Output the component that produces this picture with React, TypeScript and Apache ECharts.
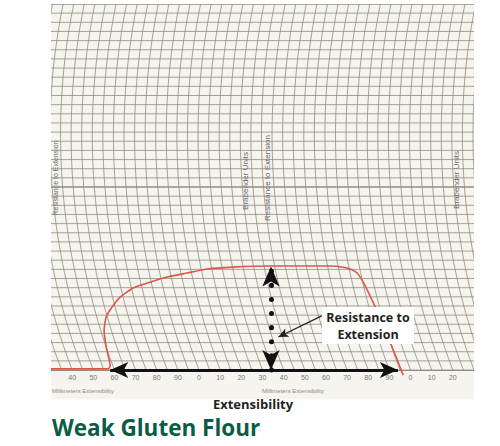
import React, { useEffect, useRef } from "react";
import * as echarts from "echarts";

// extensogram curve (mm of extension, Brabender Units)
const curveMm = [30, 57, 58, 56.1, 55.1, 56.1, 58.9, 62.7, 68.8, 76.9, 84.9, 94.4, 103.8, 116.1, 133.6, 147.8, 162, 168.1, 171.4, 174.8, 177.6, 180, 181.8, 183.3, 191.3, 196.5];
const curveBu = [3, 3, 11, 63, 109, 145, 172, 199, 224, 240, 254, 265, 276, 281, 284, 284, 284, 281, 276, 265, 240, 213, 191, 172, 63, -14];

// annotation values
const extensibility = [58, 194]; // mm, start / end of the black arrow
const resistanceMm = 134;
const resistance = [0, 283]; // BU, bottom / top of the dotted arrow
const pointerFrom = [158, 148];
const pointerTo = [137.5, 90];

// chart paper
const paperMm = [30, 230];
const paperBu = [0, 1000];
const buMin = -80;
const buStep = 25;
const mmStep = 5;

const hLines = Array.from({ length: (paperBu[1] - paperBu[0]) / buStep + 1 }, (_, i) => [paperMm[0], paperBu[0] + i * buStep]);
const arcs = Array.from({ length: 46 }, (_, i) => [paperMm[0] + i * mmStep, 0]);

const gridColor = "#948c7f";
const gridTop = 4;
const gridBottom = 46.7;

const App = () => {
  const chartRef = useRef(null);

  useEffect(() => {
    const myChart = echarts.init(chartRef.current, null, { renderer: "svg" });
    const plotH = myChart.getHeight() - gridTop - gridBottom;
    // lift the x axis from the grid bottom up to the 0 BU baseline
    const baselineOffset = -plotH * (0 - buMin) / (paperBu[1] - buMin);

    const option = {
      animation: false,
      grid: {
        show: true,
        left: 51,
        right: 26,
        top: gridTop,
        bottom: gridBottom,
        backgroundColor: "#f5f4ef",
        borderWidth: 0,
      },
      xAxis: {
        type: "value",
        min: paperMm[0],
        max: paperMm[1],
        interval: 10,
        offset: baselineOffset,
        axisLine: { show: true, onZero: false, lineStyle: { color: gridColor, width: 1 } },
        axisTick: { show: false },
        splitLine: { show: false },
        axisLabel: {
          formatter: (v: number) => String(v % 100),
          fontSize: 7,
          color: "#777",
          margin: 4,
          fontFamily: "Liberation Sans",
          showMinLabel: false,
          showMaxLabel: false,
        },
      },
      yAxis: {
        type: "value",
        min: buMin,
        max: paperBu[1],
        axisLine: { show: false },
        axisTick: { show: false },
        axisLabel: { show: false },
        splitLine: { show: false },
      },
      graphic: [
        {
          type: "text", x: 55, y: 178, rotation: Math.PI / 2,
          style: { text: "Resistance to Extension", font: "7px Liberation Sans", fill: "#666", textAlign: "center", textVerticalAlign: "middle" },
        },
        {
          type: "text", x: 245, y: 181, rotation: Math.PI / 2,
          style: { text: "Brabender Units", font: "8px Liberation Sans", fill: "#666", textAlign: "center", textVerticalAlign: "middle" },
        },
        {
          type: "text", x: 267, y: 178, rotation: Math.PI / 2,
          style: { text: "Resistance to Extension", font: "8px Liberation Sans", fill: "#666", textAlign: "center", textVerticalAlign: "middle" },
        },
        {
          type: "text", x: 456, y: 180, rotation: Math.PI / 2,
          style: { text: "Brabender Units", font: "8px Liberation Sans", fill: "#666", textAlign: "center", textVerticalAlign: "middle" },
        },
        {
          type: "text", x: 52, y: 391,
          style: { text: "Millimeters Extensibility", font: "6px Liberation Sans", fill: "#888", textAlign: "left", textVerticalAlign: "middle" },
        },
        {
          type: "text", x: 262, y: 391,
          style: { text: "Millimeters Extensibility", font: "6px Liberation Sans", fill: "#888", textAlign: "left", textVerticalAlign: "middle" },
        },
        {
          type: "rect", shape: { x: 322, y: 307, width: 92, height: 37 }, z: 10,
          style: { fill: "#ffffff" },
        },
        {
          type: "text", x: 368, y: 317, z: 11,
          style: { text: "Resistance to", font: "bold 12.5px 'Open Sans'", fill: "#231f20", textAlign: "center", textVerticalAlign: "middle" },
        },
        {
          type: "text", x: 368, y: 334, z: 11,
          style: { text: "Extension", font: "bold 12.5px 'Open Sans'", fill: "#231f20", textAlign: "center", textVerticalAlign: "middle" },
        },
        {
          type: "text", x: 253, y: 404,
          style: { text: "Extensibility", font: "bold 13px 'Open Sans'", fill: "#231f20", textAlign: "center", textVerticalAlign: "middle" },
        },
        {
          type: "text", x: 52, y: 427,
          style: { text: "Weak Gluten Flour", font: "bold 22.5px 'Open Sans'", fill: "#0b5c46", textAlign: "left", textVerticalAlign: "middle" },
        },
      ],
      series: [
        {
          // horizontal rulings of the chart paper
          type: "custom",
          silent: true,
          clip: true,
          z: 1,
          data: hLines,
          renderItem: (params, api) => {
            const a = api.coord([paperMm[0], api.value(1)]);
            const b = api.coord([paperMm[1], api.value(1)]);
            const dark = api.value(1) % 500 === 0 && api.value(1) > 0;
            return {
              type: "line",
              shape: { x1: a[0], y1: a[1], x2: b[0], y2: b[1] },
              style: { stroke: gridColor, lineWidth: dark ? 1.3 : 0.8 },
            };
          },
        },
        {
          // curved rulings: arcs swept by the recorder pen arm
          type: "custom",
          silent: true,
          clip: true,
          z: 1,
          data: arcs,
          renderItem: (params, api) => {
            const p0 = api.coord([api.value(0), 0]);
            const pTop = api.coord([api.value(0), paperBu[1]]);
            const h = p0[1] - pTop[1];
            const r = 1.8 * h;
            const d0 = 0.642 * h;
            const yc = p0[1] - d0;
            const xc = p0[0] + Math.sqrt(r * r - d0 * d0);
            const pts = [];
            for (let i = 0; i <= 30; i++) {
              const y = p0[1] - (h * i) / 30;
              pts.push([xc - Math.sqrt(r * r - (y - yc) * (y - yc)), y]);
            }
            return {
              type: "polyline",
              shape: { points: pts },
              style: { stroke: gridColor, lineWidth: 0.8, fill: null },
            };
          },
        },
        {
          type: "line",
          z: 5,
          data: curveMm.map((m, i) => [m, curveBu[i]]),
          showSymbol: false,
          smooth: 0.15,
          silent: true,
          lineStyle: { color: "#d9584b", width: 1.6 },
          markLine: {
            silent: true,
            symbol: ["arrow", "arrow"],
            label: { show: false },
            emphasis: { disabled: true },
            data: [
              [
                { coord: [extensibility[0], 0], symbolSize: [12, 18], lineStyle: { color: "#111", width: 3, type: "solid" } },
                { coord: [extensibility[1], 0], symbolSize: [12, 18] },
              ],
              [
                { coord: [resistanceMm, resistance[0]], symbolSize: [13, 20], lineStyle: { color: "#111", width: 5, type: [0.1, 14], cap: "round" } },
                { coord: [resistanceMm, resistance[1]], symbolSize: [13, 20] },
              ],
              [
                { coord: pointerFrom, symbol: "none", lineStyle: { color: "#222", width: 1.2, type: "solid" } },
                { coord: pointerTo, symbol: "arrow", symbolSize: [7, 10] },
              ],
            ],
          },
        },
      ],
    };

    myChart.setOption(option);

    return () => {
      myChart.dispose();
    };
  }, []);

  return <div ref={chartRef} style={{ position: "fixed", left: 0, top: 0, width: "100vw", height: "100vh", background: "#fff" }}></div>;
};

export default App;
